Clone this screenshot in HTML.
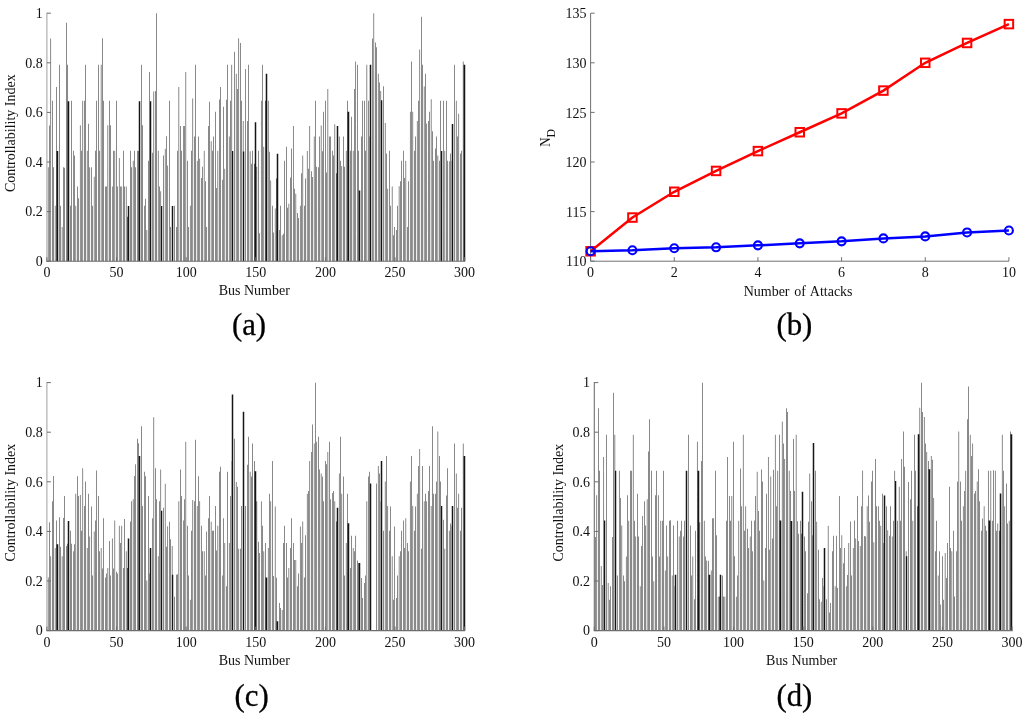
<!DOCTYPE html>
<html><head><meta charset="utf-8"><title>Figure</title>
<style>
html,body{margin:0;padding:0;background:#fff}
svg{display:block}
text{font-family:"Liberation Serif",serif;fill:#111}
.t{font-size:14px}
.l{font-size:14px}
.c{font-size:30.8px;fill:#000;stroke:#000;stroke-width:.3px}
.n{font-size:14.6px}
.s{font-size:12.4px}
</style></head><body>
<svg width="1024" height="713" viewBox="0 0 1024 713">
<rect width="1024" height="713" fill="#fff"/>
<g id="a"><path d="M47.92 167.21h0.50V261.20h-0.50zM49.24 125.54h0.50V261.20h-0.50zM50.55 38.50h0.50V261.20h-0.50zM52.07 100.74h0.50V261.20h-0.50zM53.38 167.21h0.50V261.20h-0.50zM54.89 205.65h0.50V261.20h-0.50zM56.21 87.10h0.50V261.20h-0.50zM56.75 151.09h1.5V261.20h-1.5zM59.04 64.78h0.50V261.20h-0.50zM60.35 205.65h0.50V261.20h-0.50zM61.86 226.98h0.50V261.20h-0.50zM63.18 167.21h0.50V261.20h-0.50zM64.49 167.70h0.50V261.20h-0.50zM66.01 22.87h0.50V261.20h-0.50zM67.32 64.78h0.50V261.20h-0.50zM67.75 101.24h1.5V261.20h-1.5zM70.15 205.65h0.50V261.20h-0.50zM71.46 100.74h0.50V261.20h-0.50zM72.98 150.84h0.50V261.20h-0.50zM74.29 155.55h0.50V261.20h-0.50zM75.60 205.65h0.50V261.20h-0.50zM77.12 186.55h0.50V261.20h-0.50zM78.43 198.21h0.50V261.20h-0.50zM79.95 125.30h0.50V261.20h-0.50zM81.26 150.84h0.50V261.20h-0.50zM82.57 100.74h0.50V261.20h-0.50zM84.09 100.74h0.50V261.20h-0.50zM85.40 64.78h0.50V261.20h-0.50zM86.92 150.84h0.50V261.20h-0.50zM88.23 123.81h0.50V261.20h-0.50zM89.54 167.21h0.50V261.20h-0.50zM91.06 167.21h0.50V261.20h-0.50zM92.37 205.65h0.50V261.20h-0.50zM93.89 176.63h0.50V261.20h-0.50zM95.20 150.84h0.50V261.20h-0.50zM96.51 100.74h0.50V261.20h-0.50zM98.03 64.78h0.50V261.20h-0.50zM99.34 150.84h0.50V261.20h-0.50zM100.86 64.78h0.50V261.20h-0.50zM102.17 38.25h0.50V261.20h-0.50zM103.48 100.74h0.50V261.20h-0.50zM105.00 186.55h0.50V261.20h-0.50zM106.31 186.55h0.50V261.20h-0.50zM107.63 125.30h0.50V261.20h-0.50zM109.14 100.74h0.50V261.20h-0.50zM110.45 125.30h0.50V261.20h-0.50zM111.97 186.55h0.50V261.20h-0.50zM113.28 150.84h0.50V261.20h-0.50zM114.60 150.84h0.50V261.20h-0.50zM116.11 100.74h0.50V261.20h-0.50zM117.42 186.55h0.50V261.20h-0.50zM118.94 158.03h0.50V261.20h-0.50zM120.25 186.55h0.50V261.20h-0.50zM121.57 186.55h0.50V261.20h-0.50zM123.08 150.84h0.50V261.20h-0.50zM124.39 186.55h0.50V261.20h-0.50zM125.91 186.55h0.50V261.20h-0.50zM127.22 216.81h0.50V261.20h-0.50zM127.75 205.90h1.5V261.20h-1.5zM130.05 150.84h0.50V261.20h-0.50zM131.36 167.21h0.50V261.20h-0.50zM132.88 160.76h0.50V261.20h-0.50zM134.19 150.84h0.50V261.20h-0.50zM135.51 167.21h0.50V261.20h-0.50zM137.02 150.84h0.50V261.20h-0.50zM138.33 151.09h0.50V261.20h-0.50zM138.75 101.24h1.5V261.20h-1.5zM141.16 64.78h0.50V261.20h-0.50zM142.48 125.30h0.50V261.20h-0.50zM143.99 205.65h0.50V261.20h-0.50zM145.30 198.70h0.50V261.20h-0.50zM146.62 229.95h0.50V261.20h-0.50zM148.13 160.76h0.50V261.20h-0.50zM149.45 71.98h0.50V261.20h-0.50zM149.75 101.24h1.5V261.20h-1.5zM152.27 152.82h0.50V261.20h-0.50zM153.59 91.57h0.50V261.20h-0.50zM155.10 91.07h0.50V261.20h-0.50zM156.42 13.20h0.50V261.20h-0.50zM157.93 150.84h0.50V261.20h-0.50zM159.24 186.55h0.50V261.20h-0.50zM160.56 191.26h0.50V261.20h-0.50zM160.75 205.90h1.5V261.20h-1.5zM163.39 155.55h0.50V261.20h-0.50zM164.90 148.86h0.50V261.20h-0.50zM166.21 136.21h0.50V261.20h-0.50zM167.53 165.47h0.50V261.20h-0.50zM169.04 100.74h0.50V261.20h-0.50zM170.36 226.98h0.50V261.20h-0.50zM171.87 226.98h0.50V261.20h-0.50zM171.75 205.90h1.5V261.20h-1.5zM174.50 205.65h0.50V261.20h-0.50zM176.01 226.98h0.50V261.20h-0.50zM177.33 150.84h0.50V261.20h-0.50zM178.64 87.10h0.50V261.20h-0.50zM180.15 126.04h0.50V261.20h-0.50zM181.47 150.84h0.50V261.20h-0.50zM182.98 126.04h0.50V261.20h-0.50zM184.30 126.04h0.50V261.20h-0.50zM185.61 71.98h0.50V261.20h-0.50zM187.12 160.76h0.50V261.20h-0.50zM188.44 226.98h0.50V261.20h-0.50zM189.95 205.65h0.50V261.20h-0.50zM191.27 150.84h0.50V261.20h-0.50zM192.58 98.51h0.50V261.20h-0.50zM194.09 136.46h0.50V261.20h-0.50zM195.41 64.78h0.50V261.20h-0.50zM196.92 160.76h0.50V261.20h-0.50zM198.24 136.46h0.50V261.20h-0.50zM199.55 158.78h0.50V261.20h-0.50zM201.06 178.12h0.50V261.20h-0.50zM202.38 166.71h0.50V261.20h-0.50zM203.89 150.84h0.50V261.20h-0.50zM205.21 181.34h0.50V261.20h-0.50zM206.52 226.98h0.50V261.20h-0.50zM208.03 126.04h0.50V261.20h-0.50zM209.35 101.74h0.50V261.20h-0.50zM210.86 141.17h0.50V261.20h-0.50zM212.18 150.84h0.50V261.20h-0.50zM213.49 136.46h0.50V261.20h-0.50zM215.00 111.66h0.50V261.20h-0.50zM216.32 188.04h0.50V261.20h-0.50zM217.63 150.84h0.50V261.20h-0.50zM219.15 99.50h0.50V261.20h-0.50zM220.46 87.10h0.50V261.20h-0.50zM221.97 179.86h0.50V261.20h-0.50zM223.29 106.70h0.50V261.20h-0.50zM224.60 168.70h0.50V261.20h-0.50zM226.12 99.75h0.50V261.20h-0.50zM227.43 64.78h0.50V261.20h-0.50zM228.94 136.46h0.50V261.20h-0.50zM230.26 100.74h0.50V261.20h-0.50zM231.57 64.78h0.50V261.20h-0.50zM231.75 151.09h1.5V261.20h-1.5zM234.40 51.64h0.50V261.20h-0.50zM235.91 73.71h0.50V261.20h-0.50zM237.23 89.09h0.50V261.20h-0.50zM238.54 38.25h0.50V261.20h-0.50zM240.06 42.96h0.50V261.20h-0.50zM241.37 100.74h0.50V261.20h-0.50zM242.88 121.08h0.50V261.20h-0.50zM242.75 151.58h1.5V261.20h-1.5zM245.51 69.00h0.50V261.20h-0.50zM247.03 121.08h0.50V261.20h-0.50zM248.34 64.78h0.50V261.20h-0.50zM249.85 151.34h0.50V261.20h-0.50zM251.17 163.74h0.50V261.20h-0.50zM252.48 150.84h0.50V261.20h-0.50zM254.00 163.74h0.50V261.20h-0.50zM254.75 122.32h1.5V261.20h-1.5zM256.62 166.71h0.50V261.20h-0.50zM258.14 150.84h0.50V261.20h-0.50zM259.45 233.18h0.50V261.20h-0.50zM260.97 100.74h0.50V261.20h-0.50zM262.28 64.78h0.50V261.20h-0.50zM263.59 146.87h0.50V261.20h-0.50zM265.11 100.74h0.50V261.20h-0.50zM265.75 73.71h1.5V261.20h-1.5zM267.94 100.74h0.50V261.20h-0.50zM269.25 151.83h0.50V261.20h-0.50zM270.56 180.60h0.50V261.20h-0.50zM272.08 205.65h0.50V261.20h-0.50zM273.39 232.43h0.50V261.20h-0.50zM274.91 208.62h0.50V261.20h-0.50zM276.22 178.62h0.50V261.20h-0.50zM276.75 153.82h1.5V261.20h-1.5zM279.05 229.95h0.50V261.20h-0.50zM280.36 205.65h0.50V261.20h-0.50zM281.88 235.16h0.50V261.20h-0.50zM283.19 233.67h0.50V261.20h-0.50zM284.50 160.76h0.50V261.20h-0.50zM286.02 146.87h0.50V261.20h-0.50zM287.33 207.63h0.50V261.20h-0.50zM288.65 203.66h0.50V261.20h-0.50zM290.16 177.38h0.50V261.20h-0.50zM291.47 148.61h0.50V261.20h-0.50zM292.99 126.04h0.50V261.20h-0.50zM294.30 188.78h0.50V261.20h-0.50zM295.62 193.74h0.50V261.20h-0.50zM297.13 213.09h0.50V261.20h-0.50zM298.44 218.05h0.50V261.20h-0.50zM299.96 205.65h0.50V261.20h-0.50zM301.27 173.16h0.50V261.20h-0.50zM302.59 155.55h0.50V261.20h-0.50zM304.10 205.65h0.50V261.20h-0.50zM305.41 178.62h0.50V261.20h-0.50zM306.93 151.09h0.50V261.20h-0.50zM308.24 168.70h0.50V261.20h-0.50zM309.56 126.04h0.50V261.20h-0.50zM311.07 171.18h0.50V261.20h-0.50zM312.38 176.88h0.50V261.20h-0.50zM313.90 136.46h0.50V261.20h-0.50zM315.21 100.74h0.50V261.20h-0.50zM316.53 166.71h0.50V261.20h-0.50zM318.04 167.21h0.50V261.20h-0.50zM319.35 136.46h0.50V261.20h-0.50zM320.87 125.54h0.50V261.20h-0.50zM322.18 151.34h0.50V261.20h-0.50zM323.50 111.66h0.50V261.20h-0.50zM325.01 100.74h0.50V261.20h-0.50zM326.32 172.42h0.50V261.20h-0.50zM327.64 89.09h0.50V261.20h-0.50zM329.15 136.46h0.50V261.20h-0.50zM330.47 136.46h0.50V261.20h-0.50zM331.98 150.84h0.50V261.20h-0.50zM333.29 155.55h0.50V261.20h-0.50zM334.61 124.30h0.50V261.20h-0.50zM336.12 173.16h0.50V261.20h-0.50zM336.75 126.04h1.5V261.20h-1.5zM338.95 136.46h0.50V261.20h-0.50zM340.26 160.76h0.50V261.20h-0.50zM341.58 165.97h0.50V261.20h-0.50zM343.09 136.46h0.50V261.20h-0.50zM344.41 166.71h0.50V261.20h-0.50zM345.92 150.84h0.50V261.20h-0.50zM347.23 100.74h0.50V261.20h-0.50zM347.75 111.66h1.5V261.20h-1.5zM350.06 150.84h0.50V261.20h-0.50zM351.38 116.86h0.50V261.20h-0.50zM352.89 150.84h0.50V261.20h-0.50zM354.20 89.09h0.50V261.20h-0.50zM355.52 61.56h0.50V261.20h-0.50zM357.03 64.78h0.50V261.20h-0.50zM358.35 150.84h0.50V261.20h-0.50zM358.75 190.52h1.5V261.20h-1.5zM361.17 136.46h0.50V261.20h-0.50zM362.49 100.74h0.50V261.20h-0.50zM364.00 100.74h0.50V261.20h-0.50zM365.32 150.84h0.50V261.20h-0.50zM366.63 64.78h0.50V261.20h-0.50zM368.14 100.74h0.50V261.20h-0.50zM369.46 136.46h0.50V261.20h-0.50zM369.75 64.78h1.5V261.20h-1.5zM372.29 38.50h0.50V261.20h-0.50zM373.60 13.20h0.50V261.20h-0.50zM375.11 42.46h0.50V261.20h-0.50zM376.43 47.18h0.50V261.20h-0.50zM377.94 73.71h0.50V261.20h-0.50zM379.26 82.39h0.50V261.20h-0.50zM380.57 91.07h0.50V261.20h-0.50zM380.75 100.25h1.5V261.20h-1.5zM383.40 86.36h0.50V261.20h-0.50zM384.91 123.06h0.50V261.20h-0.50zM386.23 153.57h0.50V261.20h-0.50zM387.54 188.78h0.50V261.20h-0.50zM389.05 150.84h0.50V261.20h-0.50zM390.37 205.65h0.50V261.20h-0.50zM391.88 186.55h0.50V261.20h-0.50zM393.20 235.16h0.50V261.20h-0.50zM394.51 226.98h0.50V261.20h-0.50zM396.02 229.95h0.50V261.20h-0.50zM397.34 205.65h0.50V261.20h-0.50zM398.85 186.30h0.50V261.20h-0.50zM400.17 181.34h0.50V261.20h-0.50zM401.48 160.76h0.50V261.20h-0.50zM402.99 150.84h0.50V261.20h-0.50zM404.31 178.12h0.50V261.20h-0.50zM405.62 160.76h0.50V261.20h-0.50zM407.14 226.98h0.50V261.20h-0.50zM408.45 181.34h0.50V261.20h-0.50zM409.96 111.66h0.50V261.20h-0.50zM411.28 61.56h0.50V261.20h-0.50zM412.59 111.66h0.50V261.20h-0.50zM414.11 150.84h0.50V261.20h-0.50zM415.42 136.46h0.50V261.20h-0.50zM416.93 121.08h0.50V261.20h-0.50zM418.25 100.74h0.50V261.20h-0.50zM419.56 49.41h0.50V261.20h-0.50zM421.08 16.67h0.50V261.20h-0.50zM422.39 64.78h0.50V261.20h-0.50zM423.90 86.61h0.50V261.20h-0.50zM425.22 73.71h0.50V261.20h-0.50zM426.53 123.56h0.50V261.20h-0.50zM428.05 121.08h0.50V261.20h-0.50zM429.36 111.66h0.50V261.20h-0.50zM430.87 99.26h0.50V261.20h-0.50zM432.19 131.25h0.50V261.20h-0.50zM433.50 160.76h0.50V261.20h-0.50zM435.02 148.61h0.50V261.20h-0.50zM436.33 136.46h0.50V261.20h-0.50zM437.64 155.55h0.50V261.20h-0.50zM439.16 160.76h0.50V261.20h-0.50zM440.47 100.74h0.50V261.20h-0.50zM440.75 151.09h1.5V261.20h-1.5zM443.30 100.74h0.50V261.20h-0.50zM444.61 150.84h0.50V261.20h-0.50zM446.13 100.74h0.50V261.20h-0.50zM447.44 160.76h0.50V261.20h-0.50zM448.96 161.26h0.50V261.20h-0.50zM450.27 153.57h0.50V261.20h-0.50zM451.58 160.76h0.50V261.20h-0.50zM451.75 124.06h1.5V261.20h-1.5zM454.41 64.78h0.50V261.20h-0.50zM455.93 100.74h0.50V261.20h-0.50zM457.24 136.46h0.50V261.20h-0.50zM458.55 113.64h0.50V261.20h-0.50zM460.07 153.57h0.50V261.20h-0.50zM461.38 150.84h0.50V261.20h-0.50zM462.90 61.56h0.50V261.20h-0.50zM463.75 64.78h1.5V261.20h-1.5z" fill="#151515"/><path d="M46.90 12.70V261.70" fill="none" stroke="#a8a8a8" stroke-width="1.1"/>
<path d="M46.40 261.20H465.15" fill="none" stroke="#6e6e6e" stroke-width="1.1"/>
<path d="M46.90 261.20h4M46.90 211.60h4M46.90 162.00h4M46.90 112.40h4M46.90 62.80h4M46.90 13.20h4M46.90 261.20v-4M116.53 261.20v-4M186.15 261.20v-4M255.78 261.20v-4M325.40 261.20v-4M395.02 261.20v-4M464.65 261.20v-4" stroke="#6e6e6e" stroke-width="1" fill="none"/>
<text class="t" x="42.7" y="265.9" text-anchor="end">0</text>
<text class="t" x="42.7" y="216.3" text-anchor="end">0.2</text>
<text class="t" x="42.7" y="166.7" text-anchor="end">0.4</text>
<text class="t" x="42.7" y="117.1" text-anchor="end">0.6</text>
<text class="t" x="42.7" y="67.5" text-anchor="end">0.8</text>
<text class="t" x="42.7" y="17.9" text-anchor="end">1</text>
<text class="t" x="46.9" y="277.2" text-anchor="middle">0</text>
<text class="t" x="116.5" y="277.2" text-anchor="middle">50</text>
<text class="t" x="186.2" y="277.2" text-anchor="middle">100</text>
<text class="t" x="255.8" y="277.2" text-anchor="middle">150</text>
<text class="t" x="325.4" y="277.2" text-anchor="middle">200</text>
<text class="t" x="395.0" y="277.2" text-anchor="middle">250</text>
<text class="t" x="464.6" y="277.2" text-anchor="middle">300</text>
<text class="l" x="254.3" y="295.2" text-anchor="middle">Bus Number</text>
<text class="l" transform="translate(15.2 133.2) rotate(-90)" text-anchor="middle">Controllability Index</text></g>
<text class="c" x="249" y="335.4" text-anchor="middle">(a)</text>
<g id="c"><path d="M47.92 577.53h0.50V630.60h-0.50zM49.24 522.22h0.50V630.60h-0.50zM50.55 556.20h0.50V630.60h-0.50zM52.07 501.14h0.50V630.60h-0.50zM53.38 476.10h0.50V630.60h-0.50zM54.89 548.02h0.50V630.60h-0.50zM56.21 520.49h0.50V630.60h-0.50zM56.75 544.30h1.5V630.60h-1.5zM59.04 517.26h0.50V630.60h-0.50zM60.35 546.78h0.50V630.60h-0.50zM61.86 556.20h0.50V630.60h-0.50zM63.18 518.01h0.50V630.60h-0.50zM64.49 495.94h0.50V630.60h-0.50zM66.01 546.03h0.50V630.60h-0.50zM67.32 543.80h0.50V630.60h-0.50zM67.75 520.98h1.5V630.60h-1.5zM70.15 530.66h0.50V630.60h-0.50zM71.46 543.80h0.50V630.60h-0.50zM72.98 551.24h0.50V630.60h-0.50zM74.29 544.30h0.50V630.60h-0.50zM75.60 493.70h0.50V630.60h-0.50zM77.12 476.34h0.50V630.60h-0.50zM78.43 495.94h0.50V630.60h-0.50zM79.95 494.94h0.50V630.60h-0.50zM81.26 530.66h0.50V630.60h-0.50zM82.57 468.16h0.50V630.60h-0.50zM84.09 506.10h0.50V630.60h-0.50zM85.40 481.55h0.50V630.60h-0.50zM86.92 548.02h0.50V630.60h-0.50zM88.23 493.70h0.50V630.60h-0.50zM89.54 536.61h0.50V630.60h-0.50zM91.06 506.60h0.50V630.60h-0.50zM92.37 575.54h0.50V630.60h-0.50zM93.89 531.40h0.50V630.60h-0.50zM95.20 520.49h0.50V630.60h-0.50zM96.51 470.39h0.50V630.60h-0.50zM98.03 495.94h0.50V630.60h-0.50zM99.34 551.24h0.50V630.60h-0.50zM100.86 548.02h0.50V630.60h-0.50zM102.17 568.60h0.50V630.60h-0.50zM103.48 518.26h0.50V630.60h-0.50zM105.00 577.53h0.50V630.60h-0.50zM106.31 573.56h0.50V630.60h-0.50zM107.63 568.10h0.50V630.60h-0.50zM109.14 541.07h0.50V630.60h-0.50zM110.45 575.54h0.50V630.60h-0.50zM111.97 538.59h0.50V630.60h-0.50zM113.28 568.60h0.50V630.60h-0.50zM114.60 520.49h0.50V630.60h-0.50zM116.11 571.82h0.50V630.60h-0.50zM117.42 573.56h0.50V630.60h-0.50zM118.94 525.70h0.50V630.60h-0.50zM120.25 543.06h0.50V630.60h-0.50zM121.57 525.70h0.50V630.60h-0.50zM123.08 568.10h0.50V630.60h-0.50zM124.39 519.00h0.50V630.60h-0.50zM125.91 551.24h0.50V630.60h-0.50zM127.22 568.10h0.50V630.60h-0.50zM127.75 538.59h1.5V630.60h-1.5zM130.05 521.48h0.50V630.60h-0.50zM131.36 501.14h0.50V630.60h-0.50zM132.88 499.16h0.50V630.60h-0.50zM134.19 476.10h0.50V630.60h-0.50zM135.51 464.19h0.50V630.60h-0.50zM137.02 438.65h0.50V630.60h-0.50zM138.33 443.36h0.50V630.60h-0.50zM138.75 456.01h1.5V630.60h-1.5zM141.16 426.25h0.50V630.60h-0.50zM142.48 506.10h0.50V630.60h-0.50zM143.99 471.63h0.50V630.60h-0.50zM145.30 476.34h0.50V630.60h-0.50zM146.62 580.50h0.50V630.60h-0.50zM148.13 495.94h0.50V630.60h-0.50zM149.45 573.56h0.50V630.60h-0.50zM149.75 548.02h1.5V630.60h-1.5zM152.27 518.26h0.50V630.60h-0.50zM153.59 417.32h0.50V630.60h-0.50zM155.10 468.16h0.50V630.60h-0.50zM156.42 499.16h0.50V630.60h-0.50zM157.93 556.20h0.50V630.60h-0.50zM159.24 501.14h0.50V630.60h-0.50zM160.56 469.40h0.50V630.60h-0.50zM160.75 510.82h1.5V630.60h-1.5zM163.39 507.84h0.50V630.60h-0.50zM164.90 483.78h0.50V630.60h-0.50zM166.21 546.78h0.50V630.60h-0.50zM167.53 526.19h0.50V630.60h-0.50zM169.04 521.73h0.50V630.60h-0.50zM170.36 539.34h0.50V630.60h-0.50zM171.87 546.03h0.50V630.60h-0.50zM171.75 574.80h1.5V630.60h-1.5zM174.50 596.87h0.50V630.60h-0.50zM176.01 574.80h0.50V630.60h-0.50zM177.33 574.30h0.50V630.60h-0.50zM178.64 501.14h0.50V630.60h-0.50zM180.15 469.40h0.50V630.60h-0.50zM181.47 495.94h0.50V630.60h-0.50zM182.98 520.49h0.50V630.60h-0.50zM184.30 499.16h0.50V630.60h-0.50zM185.61 441.87h0.50V630.60h-0.50zM187.12 525.70h0.50V630.60h-0.50zM188.44 575.54h0.50V630.60h-0.50zM189.95 599.85h0.50V630.60h-0.50zM191.27 530.66h0.50V630.60h-0.50zM192.58 499.90h0.50V630.60h-0.50zM194.09 501.14h0.50V630.60h-0.50zM195.41 439.64h0.50V630.60h-0.50zM196.92 506.10h0.50V630.60h-0.50zM198.24 476.34h0.50V630.60h-0.50zM199.55 501.14h0.50V630.60h-0.50zM201.06 525.70h0.50V630.60h-0.50zM202.38 551.24h0.50V630.60h-0.50zM203.89 551.24h0.50V630.60h-0.50zM205.21 575.54h0.50V630.60h-0.50zM206.52 531.40h0.50V630.60h-0.50zM208.03 518.26h0.50V630.60h-0.50zM209.35 495.94h0.50V630.60h-0.50zM210.86 521.73h0.50V630.60h-0.50zM212.18 530.66h0.50V630.60h-0.50zM213.49 530.66h0.50V630.60h-0.50zM215.00 506.10h0.50V630.60h-0.50zM216.32 550.50h0.50V630.60h-0.50zM217.63 525.70h0.50V630.60h-0.50zM219.15 471.63h0.50V630.60h-0.50zM220.46 466.67h0.50V630.60h-0.50zM221.97 575.54h0.50V630.60h-0.50zM223.29 518.26h0.50V630.60h-0.50zM224.60 543.06h0.50V630.60h-0.50zM226.12 586.21h0.50V630.60h-0.50zM227.43 471.63h0.50V630.60h-0.50zM228.94 543.06h0.50V630.60h-0.50zM230.26 495.94h0.50V630.60h-0.50zM231.57 460.97h0.50V630.60h-0.50zM231.75 394.50h1.5V630.60h-1.5zM234.40 438.65h0.50V630.60h-0.50zM235.91 482.05h0.50V630.60h-0.50zM237.23 486.76h0.50V630.60h-0.50zM238.54 548.76h0.50V630.60h-0.50zM240.06 548.76h0.50V630.60h-0.50zM241.37 506.10h0.50V630.60h-0.50zM242.88 470.39h0.50V630.60h-0.50zM242.75 411.86h1.5V630.60h-1.5zM245.51 506.10h0.50V630.60h-0.50zM247.03 464.69h0.50V630.60h-0.50zM248.34 436.66h0.50V630.60h-0.50zM249.85 471.63h0.50V630.60h-0.50zM251.17 476.59h0.50V630.60h-0.50zM252.48 443.61h0.50V630.60h-0.50zM254.00 460.97h0.50V630.60h-0.50zM254.75 471.14h1.5V630.60h-1.5zM256.62 501.14h0.50V630.60h-0.50zM258.14 541.82h0.50V630.60h-0.50zM259.45 552.98h0.50V630.60h-0.50zM260.97 501.14h0.50V630.60h-0.50zM262.28 525.70h0.50V630.60h-0.50zM263.59 551.24h0.50V630.60h-0.50zM265.11 543.06h0.50V630.60h-0.50zM265.75 577.53h1.5V630.60h-1.5zM267.94 548.02h0.50V630.60h-0.50zM269.25 493.70h0.50V630.60h-0.50zM270.56 501.14h0.50V630.60h-0.50zM272.08 460.97h0.50V630.60h-0.50zM273.39 576.04h0.50V630.60h-0.50zM274.91 506.60h0.50V630.60h-0.50zM276.22 577.78h0.50V630.60h-0.50zM276.75 621.18h1.5V630.60h-1.5zM279.05 603.07h0.50V630.60h-0.50zM280.36 608.03h0.50V630.60h-0.50zM281.88 610.02h0.50V630.60h-0.50zM283.19 543.06h0.50V630.60h-0.50zM284.50 525.70h0.50V630.60h-0.50zM286.02 543.06h0.50V630.60h-0.50zM287.33 577.53h0.50V630.60h-0.50zM288.65 568.10h0.50V630.60h-0.50zM290.16 548.02h0.50V630.60h-0.50zM291.47 518.26h0.50V630.60h-0.50zM292.99 543.06h0.50V630.60h-0.50zM294.30 559.92h0.50V630.60h-0.50zM295.62 559.92h0.50V630.60h-0.50zM297.13 586.21h0.50V630.60h-0.50zM298.44 573.56h0.50V630.60h-0.50zM299.96 526.44h0.50V630.60h-0.50zM301.27 543.06h0.50V630.60h-0.50zM302.59 521.48h0.50V630.60h-0.50zM304.10 577.53h0.50V630.60h-0.50zM305.41 535.37h0.50V630.60h-0.50zM306.93 493.70h0.50V630.60h-0.50zM308.24 490.98h0.50V630.60h-0.50zM309.56 460.97h0.50V630.60h-0.50zM311.07 452.04h0.50V630.60h-0.50zM312.38 424.51h0.50V630.60h-0.50zM313.90 443.61h0.50V630.60h-0.50zM315.21 382.85h0.50V630.60h-0.50zM316.53 441.87h0.50V630.60h-0.50zM318.04 436.66h0.50V630.60h-0.50zM319.35 469.40h0.50V630.60h-0.50zM320.87 473.62h0.50V630.60h-0.50zM322.18 476.59h0.50V630.60h-0.50zM323.50 501.14h0.50V630.60h-0.50zM325.01 460.97h0.50V630.60h-0.50zM326.32 464.19h0.50V630.60h-0.50zM327.64 452.04h0.50V630.60h-0.50zM329.15 441.87h0.50V630.60h-0.50zM330.47 499.16h0.50V630.60h-0.50zM331.98 492.96h0.50V630.60h-0.50zM333.29 490.98h0.50V630.60h-0.50zM334.61 501.14h0.50V630.60h-0.50zM336.12 521.48h0.50V630.60h-0.50zM336.75 507.84h1.5V630.60h-1.5zM338.95 473.62h0.50V630.60h-0.50zM340.26 436.66h0.50V630.60h-0.50zM341.58 493.70h0.50V630.60h-0.50zM343.09 476.59h0.50V630.60h-0.50zM344.41 575.54h0.50V630.60h-0.50zM345.92 543.06h0.50V630.60h-0.50zM347.23 493.70h0.50V630.60h-0.50zM347.75 523.22h1.5V630.60h-1.5zM350.06 568.10h0.50V630.60h-0.50zM351.38 535.86h0.50V630.60h-0.50zM352.89 548.02h0.50V630.60h-0.50zM354.20 551.24h0.50V630.60h-0.50zM355.52 535.86h0.50V630.60h-0.50zM357.03 560.42h0.50V630.60h-0.50zM358.35 562.90h0.50V630.60h-0.50zM358.75 562.90h1.5V630.60h-1.5zM361.17 578.02h0.50V630.60h-0.50zM362.49 598.11h0.50V630.60h-0.50zM364.00 582.98h0.50V630.60h-0.50zM365.32 575.54h0.50V630.60h-0.50zM366.63 501.14h0.50V630.60h-0.50zM368.14 476.59h0.50V630.60h-0.50zM369.46 471.63h0.50V630.60h-0.50zM369.75 483.54h1.5V630.60h-1.5zM376.43 483.54h0.50V630.60h-0.50zM377.94 465.93h0.50V630.60h-0.50zM379.26 473.62h0.50V630.60h-0.50zM380.57 501.14h0.50V630.60h-0.50zM380.75 460.97h1.5V630.60h-1.5zM383.40 530.66h0.50V630.60h-0.50zM384.91 481.55h0.50V630.60h-0.50zM386.23 456.01h0.50V630.60h-0.50zM387.54 506.10h0.50V630.60h-0.50zM389.05 530.66h0.50V630.60h-0.50zM390.37 506.60h0.50V630.60h-0.50zM391.88 556.20h0.50V630.60h-0.50zM393.20 599.85h0.50V630.60h-0.50zM394.51 526.44h0.50V630.60h-0.50zM396.02 598.11h0.50V630.60h-0.50zM397.34 575.54h0.50V630.60h-0.50zM398.85 556.20h0.50V630.60h-0.50zM400.17 551.24h0.50V630.60h-0.50zM401.48 530.66h0.50V630.60h-0.50zM402.99 520.49h0.50V630.60h-0.50zM404.31 548.02h0.50V630.60h-0.50zM405.62 518.26h0.50V630.60h-0.50zM407.14 543.06h0.50V630.60h-0.50zM408.45 551.24h0.50V630.60h-0.50zM409.96 481.55h0.50V630.60h-0.50zM411.28 456.01h0.50V630.60h-0.50zM412.59 506.10h0.50V630.60h-0.50zM414.11 530.66h0.50V630.60h-0.50zM415.42 506.60h0.50V630.60h-0.50zM416.93 493.70h0.50V630.60h-0.50zM418.25 465.93h0.50V630.60h-0.50zM419.56 449.06h0.50V630.60h-0.50zM421.08 548.76h0.50V630.60h-0.50zM422.39 465.93h0.50V630.60h-0.50zM423.90 501.14h0.50V630.60h-0.50zM425.22 493.70h0.50V630.60h-0.50zM426.53 501.14h0.50V630.60h-0.50zM428.05 490.98h0.50V630.60h-0.50zM429.36 465.93h0.50V630.60h-0.50zM430.87 506.10h0.50V630.60h-0.50zM432.19 426.25h0.50V630.60h-0.50zM433.50 493.70h0.50V630.60h-0.50zM435.02 493.70h0.50V630.60h-0.50zM436.33 481.55h0.50V630.60h-0.50zM437.64 431.46h0.50V630.60h-0.50zM439.16 456.01h0.50V630.60h-0.50zM440.47 481.55h0.50V630.60h-0.50zM440.75 506.10h1.5V630.60h-1.5zM443.30 519.74h0.50V630.60h-0.50zM444.61 548.76h0.50V630.60h-0.50zM446.13 495.44h0.50V630.60h-0.50zM447.44 468.16h0.50V630.60h-0.50zM448.96 530.66h0.50V630.60h-0.50zM450.27 523.46h0.50V630.60h-0.50zM451.58 525.70h0.50V630.60h-0.50zM451.75 506.10h1.5V630.60h-1.5zM454.41 443.61h0.50V630.60h-0.50zM455.93 473.62h0.50V630.60h-0.50zM457.24 507.84h0.50V630.60h-0.50zM458.55 493.70h0.50V630.60h-0.50zM460.07 530.66h0.50V630.60h-0.50zM461.38 507.84h0.50V630.60h-0.50zM462.90 443.61h0.50V630.60h-0.50zM463.75 456.01h1.5V630.60h-1.5z" fill="#151515"/><path d="M46.90 382.10V631.10" fill="none" stroke="#a8a8a8" stroke-width="1.1"/>
<path d="M46.40 630.60H465.15" fill="none" stroke="#6e6e6e" stroke-width="1.1"/>
<path d="M46.90 630.60h4M46.90 581.00h4M46.90 531.40h4M46.90 481.80h4M46.90 432.20h4M46.90 382.60h4M46.90 630.60v-4M116.53 630.60v-4M186.15 630.60v-4M255.78 630.60v-4M325.40 630.60v-4M395.02 630.60v-4M464.65 630.60v-4" stroke="#6e6e6e" stroke-width="1" fill="none"/>
<text class="t" x="42.7" y="635.3" text-anchor="end">0</text>
<text class="t" x="42.7" y="585.7" text-anchor="end">0.2</text>
<text class="t" x="42.7" y="536.1" text-anchor="end">0.4</text>
<text class="t" x="42.7" y="486.5" text-anchor="end">0.6</text>
<text class="t" x="42.7" y="436.9" text-anchor="end">0.8</text>
<text class="t" x="42.7" y="387.3" text-anchor="end">1</text>
<text class="t" x="46.9" y="646.6" text-anchor="middle">0</text>
<text class="t" x="116.5" y="646.6" text-anchor="middle">50</text>
<text class="t" x="186.2" y="646.6" text-anchor="middle">100</text>
<text class="t" x="255.8" y="646.6" text-anchor="middle">150</text>
<text class="t" x="325.4" y="646.6" text-anchor="middle">200</text>
<text class="t" x="395.0" y="646.6" text-anchor="middle">250</text>
<text class="t" x="464.6" y="646.6" text-anchor="middle">300</text>
<text class="l" x="254.3" y="664.6" text-anchor="middle">Bus Number</text>
<text class="l" transform="translate(15.2 502.6) rotate(-90)" text-anchor="middle">Controllability Index</text></g>
<text class="c" x="251.7" y="705.6" text-anchor="middle">(c)</text>
<g id="d"><path d="M595.24 537.10h0.50V630.60h-0.50zM596.56 495.19h0.50V630.60h-0.50zM598.07 408.14h0.50V630.60h-0.50zM599.39 470.64h0.50V630.60h-0.50zM600.90 566.12h0.50V630.60h-0.50zM602.21 584.97h0.50V630.60h-0.50zM603.53 457.00h0.50V630.60h-0.50zM603.75 520.49h1.5V630.60h-1.5zM606.36 434.68h0.50V630.60h-0.50zM607.87 582.98h0.50V630.60h-0.50zM609.18 599.85h0.50V630.60h-0.50zM610.50 586.21h0.50V630.60h-0.50zM612.01 537.10h0.50V630.60h-0.50zM613.33 392.77h0.50V630.60h-0.50zM614.64 434.68h0.50V630.60h-0.50zM614.75 470.64h1.5V630.60h-1.5zM617.47 575.54h0.50V630.60h-0.50zM618.98 470.64h0.50V630.60h-0.50zM620.30 497.92h0.50V630.60h-0.50zM621.61 525.45h0.50V630.60h-0.50zM623.12 575.54h0.50V630.60h-0.50zM624.44 581.25h0.50V630.60h-0.50zM625.95 556.45h0.50V630.60h-0.50zM627.27 495.19h0.50V630.60h-0.50zM628.58 520.74h0.50V630.60h-0.50zM630.09 470.64h0.50V630.60h-0.50zM631.41 470.64h0.50V630.60h-0.50zM632.92 434.68h0.50V630.60h-0.50zM634.24 520.74h0.50V630.60h-0.50zM635.55 536.61h0.50V630.60h-0.50zM637.06 493.70h0.50V630.60h-0.50zM638.38 536.61h0.50V630.60h-0.50zM639.89 586.21h0.50V630.60h-0.50zM641.21 546.03h0.50V630.60h-0.50zM642.52 516.02h0.50V630.60h-0.50zM644.03 501.14h0.50V630.60h-0.50zM645.35 525.45h0.50V630.60h-0.50zM646.86 499.16h0.50V630.60h-0.50zM648.18 451.54h0.50V630.60h-0.50zM649.49 419.30h0.50V630.60h-0.50zM651.00 470.64h0.50V630.60h-0.50zM652.32 556.45h0.50V630.60h-0.50zM653.63 581.25h0.50V630.60h-0.50zM655.15 495.19h0.50V630.60h-0.50zM656.46 470.64h0.50V630.60h-0.50zM657.97 495.19h0.50V630.60h-0.50zM659.29 556.45h0.50V630.60h-0.50zM660.60 520.74h0.50V630.60h-0.50zM662.12 520.74h0.50V630.60h-0.50zM663.43 470.64h0.50V630.60h-0.50zM664.94 570.58h0.50V630.60h-0.50zM666.26 525.45h0.50V630.60h-0.50zM667.57 556.45h0.50V630.60h-0.50zM669.09 520.74h0.50V630.60h-0.50zM670.40 520.24h0.50V630.60h-0.50zM671.91 575.54h0.50V630.60h-0.50zM673.23 525.45h0.50V630.60h-0.50zM674.54 586.21h0.50V630.60h-0.50zM674.75 574.80h1.5V630.60h-1.5zM677.37 520.74h0.50V630.60h-0.50zM678.88 536.61h0.50V630.60h-0.50zM680.20 530.66h0.50V630.60h-0.50zM681.51 520.74h0.50V630.60h-0.50zM683.03 536.61h0.50V630.60h-0.50zM684.34 520.74h0.50V630.60h-0.50zM685.85 556.20h0.50V630.60h-0.50zM685.75 470.64h1.5V630.60h-1.5zM688.48 434.68h0.50V630.60h-0.50zM690.00 525.45h0.50V630.60h-0.50zM691.31 575.54h0.50V630.60h-0.50zM692.62 556.45h0.50V630.60h-0.50zM694.14 599.35h0.50V630.60h-0.50zM695.45 530.66h0.50V630.60h-0.50zM696.97 441.87h0.50V630.60h-0.50zM697.75 470.64h1.5V630.60h-1.5zM699.59 522.22h0.50V630.60h-0.50zM701.11 460.97h0.50V630.60h-0.50zM702.42 382.85h0.50V630.60h-0.50zM703.94 520.74h0.50V630.60h-0.50zM705.25 556.45h0.50V630.60h-0.50zM706.56 560.42h0.50V630.60h-0.50zM708.08 560.66h0.50V630.60h-0.50zM708.75 574.80h1.5V630.60h-1.5zM710.91 570.58h0.50V630.60h-0.50zM712.22 518.26h0.50V630.60h-0.50zM713.53 518.26h0.50V630.60h-0.50zM715.05 470.64h0.50V630.60h-0.50zM716.36 535.37h0.50V630.60h-0.50zM717.88 596.87h0.50V630.60h-0.50zM719.19 596.38h0.50V630.60h-0.50zM719.75 574.80h1.5V630.60h-1.5zM722.02 575.54h0.50V630.60h-0.50zM723.33 596.38h0.50V630.60h-0.50zM724.65 596.87h0.50V630.60h-0.50zM726.16 520.74h0.50V630.60h-0.50zM727.47 457.00h0.50V630.60h-0.50zM728.99 495.94h0.50V630.60h-0.50zM730.30 520.74h0.50V630.60h-0.50zM731.62 495.94h0.50V630.60h-0.50zM733.13 441.87h0.50V630.60h-0.50zM734.44 556.20h0.50V630.60h-0.50zM735.96 596.87h0.50V630.60h-0.50zM737.27 575.54h0.50V630.60h-0.50zM738.59 520.74h0.50V630.60h-0.50zM740.10 468.41h0.50V630.60h-0.50zM741.41 506.35h0.50V630.60h-0.50zM742.93 434.68h0.50V630.60h-0.50zM744.24 530.66h0.50V630.60h-0.50zM745.56 506.35h0.50V630.60h-0.50zM747.07 528.67h0.50V630.60h-0.50zM748.38 548.02h0.50V630.60h-0.50zM749.90 536.61h0.50V630.60h-0.50zM751.21 520.74h0.50V630.60h-0.50zM752.53 551.24h0.50V630.60h-0.50zM754.04 520.49h0.50V630.60h-0.50zM755.35 495.94h0.50V630.60h-0.50zM756.87 471.63h0.50V630.60h-0.50zM758.18 511.06h0.50V630.60h-0.50zM759.50 530.66h0.50V630.60h-0.50zM761.01 469.40h0.50V630.60h-0.50zM762.32 481.55h0.50V630.60h-0.50zM763.64 580.50h0.50V630.60h-0.50zM765.15 548.02h0.50V630.60h-0.50zM766.47 493.70h0.50V630.60h-0.50zM767.98 457.00h0.50V630.60h-0.50zM769.29 549.75h0.50V630.60h-0.50zM770.61 476.59h0.50V630.60h-0.50zM772.12 538.59h0.50V630.60h-0.50zM773.44 469.65h0.50V630.60h-0.50zM774.95 434.68h0.50V630.60h-0.50zM776.26 506.35h0.50V630.60h-0.50zM777.58 470.64h0.50V630.60h-0.50zM779.09 434.68h0.50V630.60h-0.50zM779.75 520.49h1.5V630.60h-1.5zM781.92 421.54h0.50V630.60h-0.50zM783.23 443.61h0.50V630.60h-0.50zM784.55 458.98h0.50V630.60h-0.50zM786.06 408.14h0.50V630.60h-0.50zM787.38 412.11h0.50V630.60h-0.50zM788.89 470.64h0.50V630.60h-0.50zM790.20 490.98h0.50V630.60h-0.50zM790.75 520.98h1.5V630.60h-1.5zM793.03 438.90h0.50V630.60h-0.50zM794.35 490.98h0.50V630.60h-0.50zM795.86 434.68h0.50V630.60h-0.50zM797.17 521.23h0.50V630.60h-0.50zM798.49 533.63h0.50V630.60h-0.50zM800.00 520.74h0.50V630.60h-0.50zM801.32 533.63h0.50V630.60h-0.50zM801.75 491.72h1.5V630.60h-1.5zM804.14 536.61h0.50V630.60h-0.50zM805.46 551.24h0.50V630.60h-0.50zM806.97 593.15h0.50V630.60h-0.50zM808.29 521.73h0.50V630.60h-0.50zM809.60 473.62h0.50V630.60h-0.50zM811.11 501.14h0.50V630.60h-0.50zM812.43 535.37h0.50V630.60h-0.50zM812.75 443.11h1.5V630.60h-1.5zM815.26 470.64h0.50V630.60h-0.50zM816.57 521.73h0.50V630.60h-0.50zM818.08 549.75h0.50V630.60h-0.50zM819.40 599.35h0.50V630.60h-0.50zM820.91 601.83h0.50V630.60h-0.50zM822.23 578.02h0.50V630.60h-0.50zM823.54 586.21h0.50V630.60h-0.50zM823.75 548.02h1.5V630.60h-1.5zM826.37 599.35h0.50V630.60h-0.50zM827.88 525.70h0.50V630.60h-0.50zM829.20 612.50h0.50V630.60h-0.50zM830.51 603.07h0.50V630.60h-0.50zM832.02 551.24h0.50V630.60h-0.50zM833.34 535.86h0.50V630.60h-0.50zM834.85 586.21h0.50V630.60h-0.50zM836.17 535.86h0.50V630.60h-0.50zM837.48 587.94h0.50V630.60h-0.50zM838.99 495.94h0.50V630.60h-0.50zM840.31 548.02h0.50V630.60h-0.50zM841.62 535.37h0.50V630.60h-0.50zM843.14 563.14h0.50V630.60h-0.50zM844.45 548.02h0.50V630.60h-0.50zM845.96 586.21h0.50V630.60h-0.50zM847.28 575.05h0.50V630.60h-0.50zM848.59 543.06h0.50V630.60h-0.50zM850.11 521.48h0.50V630.60h-0.50zM851.42 575.54h0.50V630.60h-0.50zM852.93 548.02h0.50V630.60h-0.50zM854.25 520.49h0.50V630.60h-0.50zM855.56 538.59h0.50V630.60h-0.50zM857.08 495.94h0.50V630.60h-0.50zM858.39 541.07h0.50V630.60h-0.50zM859.90 546.03h0.50V630.60h-0.50zM861.22 506.35h0.50V630.60h-0.50zM862.53 470.39h0.50V630.60h-0.50zM864.05 536.11h0.50V630.60h-0.50zM865.36 536.61h0.50V630.60h-0.50zM866.87 506.35h0.50V630.60h-0.50zM868.19 495.44h0.50V630.60h-0.50zM869.50 521.73h0.50V630.60h-0.50zM871.02 481.55h0.50V630.60h-0.50zM872.33 470.64h0.50V630.60h-0.50zM873.64 542.31h0.50V630.60h-0.50zM875.16 458.98h0.50V630.60h-0.50zM876.47 506.35h0.50V630.60h-0.50zM877.99 506.35h0.50V630.60h-0.50zM879.30 520.74h0.50V630.60h-0.50zM880.61 525.70h0.50V630.60h-0.50zM882.13 493.70h0.50V630.60h-0.50zM883.44 543.06h0.50V630.60h-0.50zM883.75 495.44h1.5V630.60h-1.5zM886.27 506.35h0.50V630.60h-0.50zM887.58 530.16h0.50V630.60h-0.50zM889.10 535.86h0.50V630.60h-0.50zM890.41 506.35h0.50V630.60h-0.50zM891.93 536.61h0.50V630.60h-0.50zM893.24 520.74h0.50V630.60h-0.50zM894.55 470.64h0.50V630.60h-0.50zM894.75 481.06h1.5V630.60h-1.5zM897.38 520.74h0.50V630.60h-0.50zM898.90 486.76h0.50V630.60h-0.50zM900.21 520.74h0.50V630.60h-0.50zM901.52 458.98h0.50V630.60h-0.50zM903.04 431.46h0.50V630.60h-0.50zM904.35 466.67h0.50V630.60h-0.50zM905.87 551.24h0.50V630.60h-0.50zM905.75 556.20h1.5V630.60h-1.5zM908.49 482.05h0.50V630.60h-0.50zM910.01 499.16h0.50V630.60h-0.50zM911.32 470.64h0.50V630.60h-0.50zM912.64 520.74h0.50V630.60h-0.50zM914.15 434.68h0.50V630.60h-0.50zM915.46 470.64h0.50V630.60h-0.50zM916.98 506.35h0.50V630.60h-0.50zM917.75 434.18h1.5V630.60h-1.5zM919.61 407.65h0.50V630.60h-0.50zM921.12 382.85h0.50V630.60h-0.50zM922.43 412.11h0.50V630.60h-0.50zM923.95 417.07h0.50V630.60h-0.50zM925.26 443.61h0.50V630.60h-0.50zM926.58 452.04h0.50V630.60h-0.50zM928.09 460.97h0.50V630.60h-0.50zM928.75 469.15h1.5V630.60h-1.5zM930.92 456.01h0.50V630.60h-0.50zM932.23 459.73h0.50V630.60h-0.50zM933.55 497.92h0.50V630.60h-0.50zM935.06 551.24h0.50V630.60h-0.50zM936.37 520.74h0.50V630.60h-0.50zM937.89 575.54h0.50V630.60h-0.50zM939.20 551.24h0.50V630.60h-0.50zM940.52 604.56h0.50V630.60h-0.50zM942.03 556.20h0.50V630.60h-0.50zM943.34 599.85h0.50V630.60h-0.50zM944.86 552.98h0.50V630.60h-0.50zM946.17 578.02h0.50V630.60h-0.50zM947.49 543.06h0.50V630.60h-0.50zM949.00 486.76h0.50V630.60h-0.50zM950.31 548.02h0.50V630.60h-0.50zM951.63 551.24h0.50V630.60h-0.50zM953.14 530.66h0.50V630.60h-0.50zM954.46 596.38h0.50V630.60h-0.50zM955.97 551.24h0.50V630.60h-0.50zM957.28 481.55h0.50V630.60h-0.50zM958.60 431.46h0.50V630.60h-0.50zM960.11 481.55h0.50V630.60h-0.50zM961.43 520.74h0.50V630.60h-0.50zM962.94 506.35h0.50V630.60h-0.50zM964.25 490.98h0.50V630.60h-0.50zM965.57 470.64h0.50V630.60h-0.50zM967.08 419.30h0.50V630.60h-0.50zM968.40 386.57h0.50V630.60h-0.50zM969.91 434.68h0.50V630.60h-0.50zM971.22 456.01h0.50V630.60h-0.50zM972.54 443.61h0.50V630.60h-0.50zM974.05 493.46h0.50V630.60h-0.50zM975.37 490.98h0.50V630.60h-0.50zM976.88 481.55h0.50V630.60h-0.50zM978.19 469.15h0.50V630.60h-0.50zM979.51 501.14h0.50V630.60h-0.50zM981.02 530.66h0.50V630.60h-0.50zM982.34 518.50h0.50V630.60h-0.50zM983.85 506.35h0.50V630.60h-0.50zM985.16 525.70h0.50V630.60h-0.50zM986.48 530.66h0.50V630.60h-0.50zM987.99 470.64h0.50V630.60h-0.50zM988.75 520.49h1.5V630.60h-1.5zM990.62 470.64h0.50V630.60h-0.50zM992.13 520.74h0.50V630.60h-0.50zM993.45 470.14h0.50V630.60h-0.50zM994.96 470.64h0.50V630.60h-0.50zM996.28 530.66h0.50V630.60h-0.50zM997.59 523.46h0.50V630.60h-0.50zM999.10 530.66h0.50V630.60h-0.50zM999.75 493.46h1.5V630.60h-1.5zM1001.93 434.68h0.50V630.60h-0.50zM1003.25 470.64h0.50V630.60h-0.50zM1004.56 506.35h0.50V630.60h-0.50zM1006.07 483.54h0.50V630.60h-0.50zM1007.39 523.46h0.50V630.60h-0.50zM1008.90 520.74h0.50V630.60h-0.50zM1010.22 431.46h0.50V630.60h-0.50zM1010.75 434.18h1.5V630.60h-1.5z" fill="#151515"/><path d="M594.30 382.10V631.10" fill="none" stroke="#707070" stroke-width="1.1"/>
<path d="M593.80 630.60H1012.55" fill="none" stroke="#6e6e6e" stroke-width="1.1"/>
<path d="M594.30 630.60h4M594.30 581.00h4M594.30 531.40h4M594.30 481.80h4M594.30 432.20h4M594.30 382.60h4M594.30 630.60v-4M663.92 630.60v-4M733.55 630.60v-4M803.17 630.60v-4M872.80 630.60v-4M942.42 630.60v-4M1012.05 630.60v-4" stroke="#6e6e6e" stroke-width="1" fill="none"/>
<text class="t" x="590.1" y="635.3" text-anchor="end">0</text>
<text class="t" x="590.1" y="585.7" text-anchor="end">0.2</text>
<text class="t" x="590.1" y="536.1" text-anchor="end">0.4</text>
<text class="t" x="590.1" y="486.5" text-anchor="end">0.6</text>
<text class="t" x="590.1" y="436.9" text-anchor="end">0.8</text>
<text class="t" x="590.1" y="387.3" text-anchor="end">1</text>
<text class="t" x="594.3" y="646.6" text-anchor="middle">0</text>
<text class="t" x="663.9" y="646.6" text-anchor="middle">50</text>
<text class="t" x="733.5" y="646.6" text-anchor="middle">100</text>
<text class="t" x="803.2" y="646.6" text-anchor="middle">150</text>
<text class="t" x="872.8" y="646.6" text-anchor="middle">200</text>
<text class="t" x="942.4" y="646.6" text-anchor="middle">250</text>
<text class="t" x="1012.0" y="646.6" text-anchor="middle">300</text>
<text class="l" x="801.7" y="664.6" text-anchor="middle">Bus Number</text>
<text class="l" transform="translate(562.6 502.6) rotate(-90)" text-anchor="middle">Controllability Index</text></g>
<text class="c" x="794.4" y="705.6" text-anchor="middle">(d)</text>
<g id="b"><path d="M590.60 13.20V261.20H1008.90" fill="none" stroke="#707070" stroke-width="1"/>
<path d="M590.60 261.20h4M590.60 211.60h4M590.60 162.00h4M590.60 112.40h4M590.60 62.80h4M590.60 13.20h4M590.60 261.20v-4M674.26 261.20v-4M757.92 261.20v-4M841.58 261.20v-4M925.24 261.20v-4M1008.90 261.20v-4" stroke="#707070" stroke-width="1" fill="none"/>
<text class="t" x="586.6" y="266.4" text-anchor="end">110</text>
<text class="t" x="586.6" y="216.8" text-anchor="end">115</text>
<text class="t" x="586.6" y="167.2" text-anchor="end">120</text>
<text class="t" x="586.6" y="117.6" text-anchor="end">125</text>
<text class="t" x="586.6" y="68.0" text-anchor="end">130</text>
<text class="t" x="586.6" y="18.4" text-anchor="end">135</text>
<text class="t" x="590.6" y="277.2" text-anchor="middle">0</text>
<text class="t" x="674.3" y="277.2" text-anchor="middle">2</text>
<text class="t" x="757.9" y="277.2" text-anchor="middle">4</text>
<text class="t" x="841.6" y="277.2" text-anchor="middle">6</text>
<text class="t" x="925.2" y="277.2" text-anchor="middle">8</text>
<text class="t" x="1008.9" y="277.2" text-anchor="middle">10</text>
<text class="l" x="798.1" y="295.8" text-anchor="middle" style="word-spacing:1.2px">Number of Attacks</text>
<text class="n" transform="translate(550 146.7) rotate(-90) scale(0.88 1)">N</text><text class="s" transform="translate(554.8 137.5) rotate(-90) scale(0.95 1)">D</text>
<polyline points="590.60,251.28 632.43,217.55 674.26,191.76 716.09,170.93 757.92,151.09 799.75,132.24 841.58,113.39 883.41,90.58 925.24,62.80 967.07,42.96 1008.90,24.11" fill="none" stroke="#f00" stroke-width="2.5"/>
<rect x="586.35" y="247.03" width="8.5" height="8.5" fill="none" stroke="#f00" stroke-width="2"/>
<rect x="628.18" y="213.30" width="8.5" height="8.5" fill="none" stroke="#f00" stroke-width="2"/>
<rect x="670.01" y="187.51" width="8.5" height="8.5" fill="none" stroke="#f00" stroke-width="2"/>
<rect x="711.84" y="166.68" width="8.5" height="8.5" fill="none" stroke="#f00" stroke-width="2"/>
<rect x="753.67" y="146.84" width="8.5" height="8.5" fill="none" stroke="#f00" stroke-width="2"/>
<rect x="795.50" y="127.99" width="8.5" height="8.5" fill="none" stroke="#f00" stroke-width="2"/>
<rect x="837.33" y="109.14" width="8.5" height="8.5" fill="none" stroke="#f00" stroke-width="2"/>
<rect x="879.16" y="86.33" width="8.5" height="8.5" fill="none" stroke="#f00" stroke-width="2"/>
<rect x="920.99" y="58.55" width="8.5" height="8.5" fill="none" stroke="#f00" stroke-width="2"/>
<rect x="962.82" y="38.71" width="8.5" height="8.5" fill="none" stroke="#f00" stroke-width="2"/>
<rect x="1004.65" y="19.86" width="8.5" height="8.5" fill="none" stroke="#f00" stroke-width="2"/>
<polyline points="590.60,251.28 632.43,250.29 674.26,248.30 716.09,247.31 757.92,245.33 799.75,243.34 841.58,241.36 883.41,238.38 925.24,236.40 967.07,232.43 1008.90,230.45" fill="none" stroke="#00f" stroke-width="2.5"/>
<circle cx="590.60" cy="251.28" r="4" fill="none" stroke="#00f" stroke-width="2.1"/>
<circle cx="632.43" cy="250.29" r="4" fill="none" stroke="#00f" stroke-width="2.1"/>
<circle cx="674.26" cy="248.30" r="4" fill="none" stroke="#00f" stroke-width="2.1"/>
<circle cx="716.09" cy="247.31" r="4" fill="none" stroke="#00f" stroke-width="2.1"/>
<circle cx="757.92" cy="245.33" r="4" fill="none" stroke="#00f" stroke-width="2.1"/>
<circle cx="799.75" cy="243.34" r="4" fill="none" stroke="#00f" stroke-width="2.1"/>
<circle cx="841.58" cy="241.36" r="4" fill="none" stroke="#00f" stroke-width="2.1"/>
<circle cx="883.41" cy="238.38" r="4" fill="none" stroke="#00f" stroke-width="2.1"/>
<circle cx="925.24" cy="236.40" r="4" fill="none" stroke="#00f" stroke-width="2.1"/>
<circle cx="967.07" cy="232.43" r="4" fill="none" stroke="#00f" stroke-width="2.1"/>
<circle cx="1008.90" cy="230.45" r="4" fill="none" stroke="#00f" stroke-width="2.1"/></g>
<text class="c" x="794.4" y="335.4" text-anchor="middle">(b)</text>
</svg></body></html>
